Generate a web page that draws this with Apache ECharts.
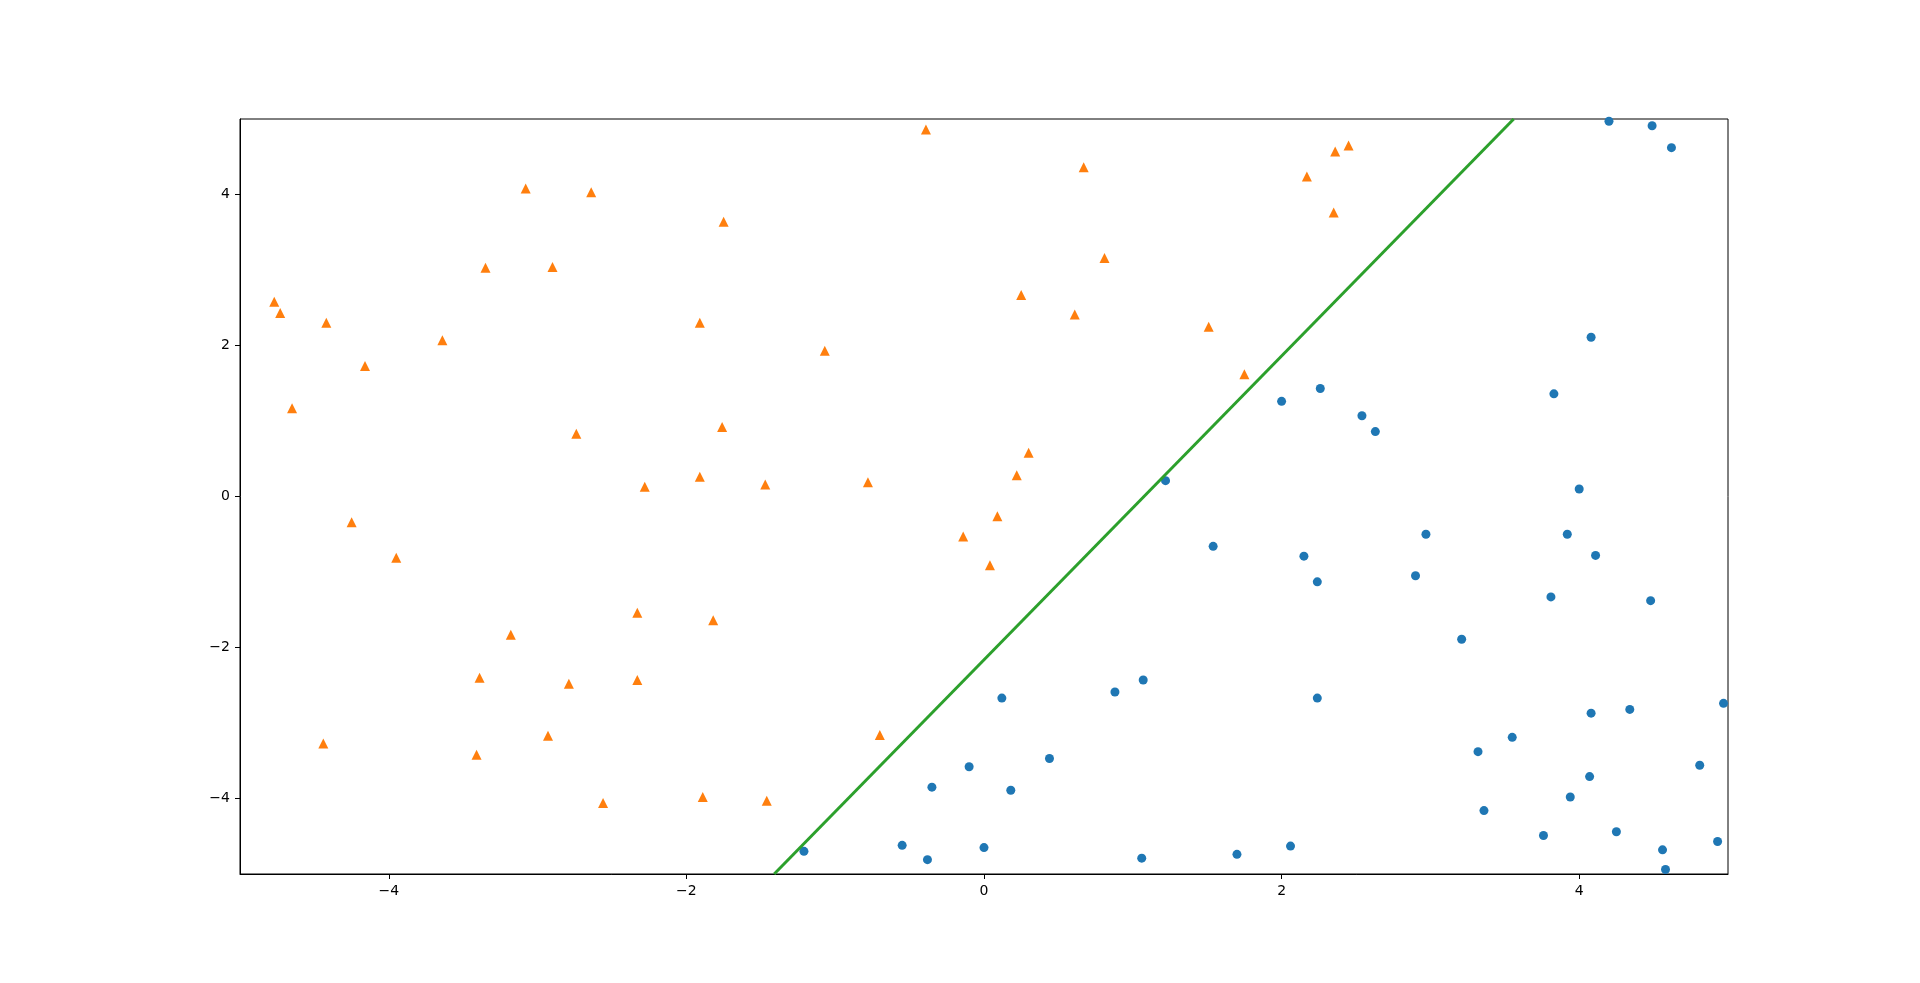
<!DOCTYPE html>
<html>
<head>
<meta charset="utf-8">
<script src="https://cdn.jsdelivr.net/npm/echarts@6/dist/echarts.min.js"></script>
<style>
html, body { margin: 0; padding: 0; background: #fff; }
#chart { width: 1920px; height: 983px; }
</style>
</head>
<body>
<div id="chart"></div>
<script>
// class 1 (orange triangles)
var classA = [
  [-4.77, 2.58], [-4.73, 2.43], [-4.65, 1.17], [-4.42, 2.30], [-4.44, -3.27],
  [-4.25, -0.34], [-4.16, 1.73], [-3.95, -0.81], [-3.64, 2.07], [-3.35, 3.03],
  [-3.39, -2.40], [-3.41, -3.42], [-3.18, -1.83], [-3.08, 4.08], [-2.90, 3.04],
  [-2.93, -3.17], [-2.79, -2.48], [-2.74, 0.83], [-2.64, 4.03], [-2.56, -4.06],
  [-2.33, -1.54], [-2.33, -2.43], [-2.28, 0.13], [-1.91, 2.30], [-1.91, 0.26],
  [-1.89, -3.98], [-1.82, -1.64], [-1.76, 0.92], [-1.75, 3.64], [-1.47, 0.16],
  [-1.46, -4.03], [-1.07, 1.93], [-0.78, 0.19], [-0.70, -3.16], [-0.39, 4.86],
  [-0.14, -0.53], [0.04, -0.91], [0.09, -0.26], [0.22, 0.28], [0.25, 2.67],
  [0.30, 0.58], [0.61, 2.41], [0.67, 4.36], [0.81, 3.16], [1.51, 2.25],
  [1.75, 1.62], [2.17, 4.24], [2.35, 3.76], [2.36, 4.57], [2.45, 4.65]
];
// class 0 (blue circles)
var classB = [
  [-1.21, -4.70], [-0.55, -4.62], [-0.38, -4.81], [-0.35, -3.85], [-0.10, -3.58],
  [0.00, -4.65], [0.12, -2.67], [0.18, -3.89], [0.44, -3.47], [0.88, -2.59],
  [1.07, -2.43], [1.06, -4.79], [1.22, 0.21], [1.54, -0.66], [1.70, -4.74],
  [2.00, 1.26], [2.06, -4.63], [2.15, -0.79], [2.24, -1.13], [2.24, -2.67],
  [2.26, 1.43], [2.54, 1.07], [2.63, 0.86], [2.90, -1.05], [2.97, -0.50],
  [3.21, -1.89], [3.32, -3.38], [3.36, -4.16], [3.55, -3.19], [3.76, -4.49],
  [3.81, -1.33], [3.83, 1.36], [3.92, -0.50], [3.94, -3.98], [4.00, 0.10],
  [4.07, -3.71], [4.08, -2.87], [4.08, 2.11], [4.11, -0.78], [4.20, 4.97],
  [4.25, -4.44], [4.34, -2.82], [4.48, -1.38], [4.49, 4.91], [4.56, -4.68],
  [4.58, -4.94], [4.62, 4.62], [4.81, -3.56], [4.93, -4.57], [4.97, -2.74]
];
// separating line end points
var boundary = [[-1.41, -5], [3.56, 5]];
var ticks = [-4, -2, 0, 2, 4];

var chart = echarts.init(document.getElementById('chart'));
var minus = function (v) { return String(v).replace('-', '\u2212'); };

function makeAxis() {
  return {
    type: 'value',
    min: -5,
    max: 5,
    splitLine: { show: false },
    axisLine: { show: true, onZero: false, lineStyle: { color: '#000', width: 1 } },
    axisTick: { show: true, length: 5, customValues: ticks, lineStyle: { color: '#000' } },
    axisLabel: { color: '#000', fontSize: 14, fontFamily: 'DejaVu Sans', margin: 10,
      formatter: minus, customValues: ticks }
  };
}

var option = {
  animation: false,
  grid: { left: 240, right: 192, top: 119, bottom: 109, show: true, borderColor: '#000', borderWidth: 1 },
  xAxis: makeAxis(),
  yAxis: makeAxis(),
  series: [
    {
      type: 'scatter', data: classB, symbol: 'circle', symbolSize: 9,
      itemStyle: { color: '#1f77b4', opacity: 1 }
    },
    {
      type: 'scatter', data: classA, symbol: 'triangle', symbolSize: 10,
      itemStyle: { color: '#ff7f0e', opacity: 1 }
    },
    {
      type: 'line', data: boundary, symbol: 'none',
      lineStyle: { color: '#2ca02c', width: 3 }
    }
  ]
};
chart.setOption(option);
</script>
</body>
</html>
